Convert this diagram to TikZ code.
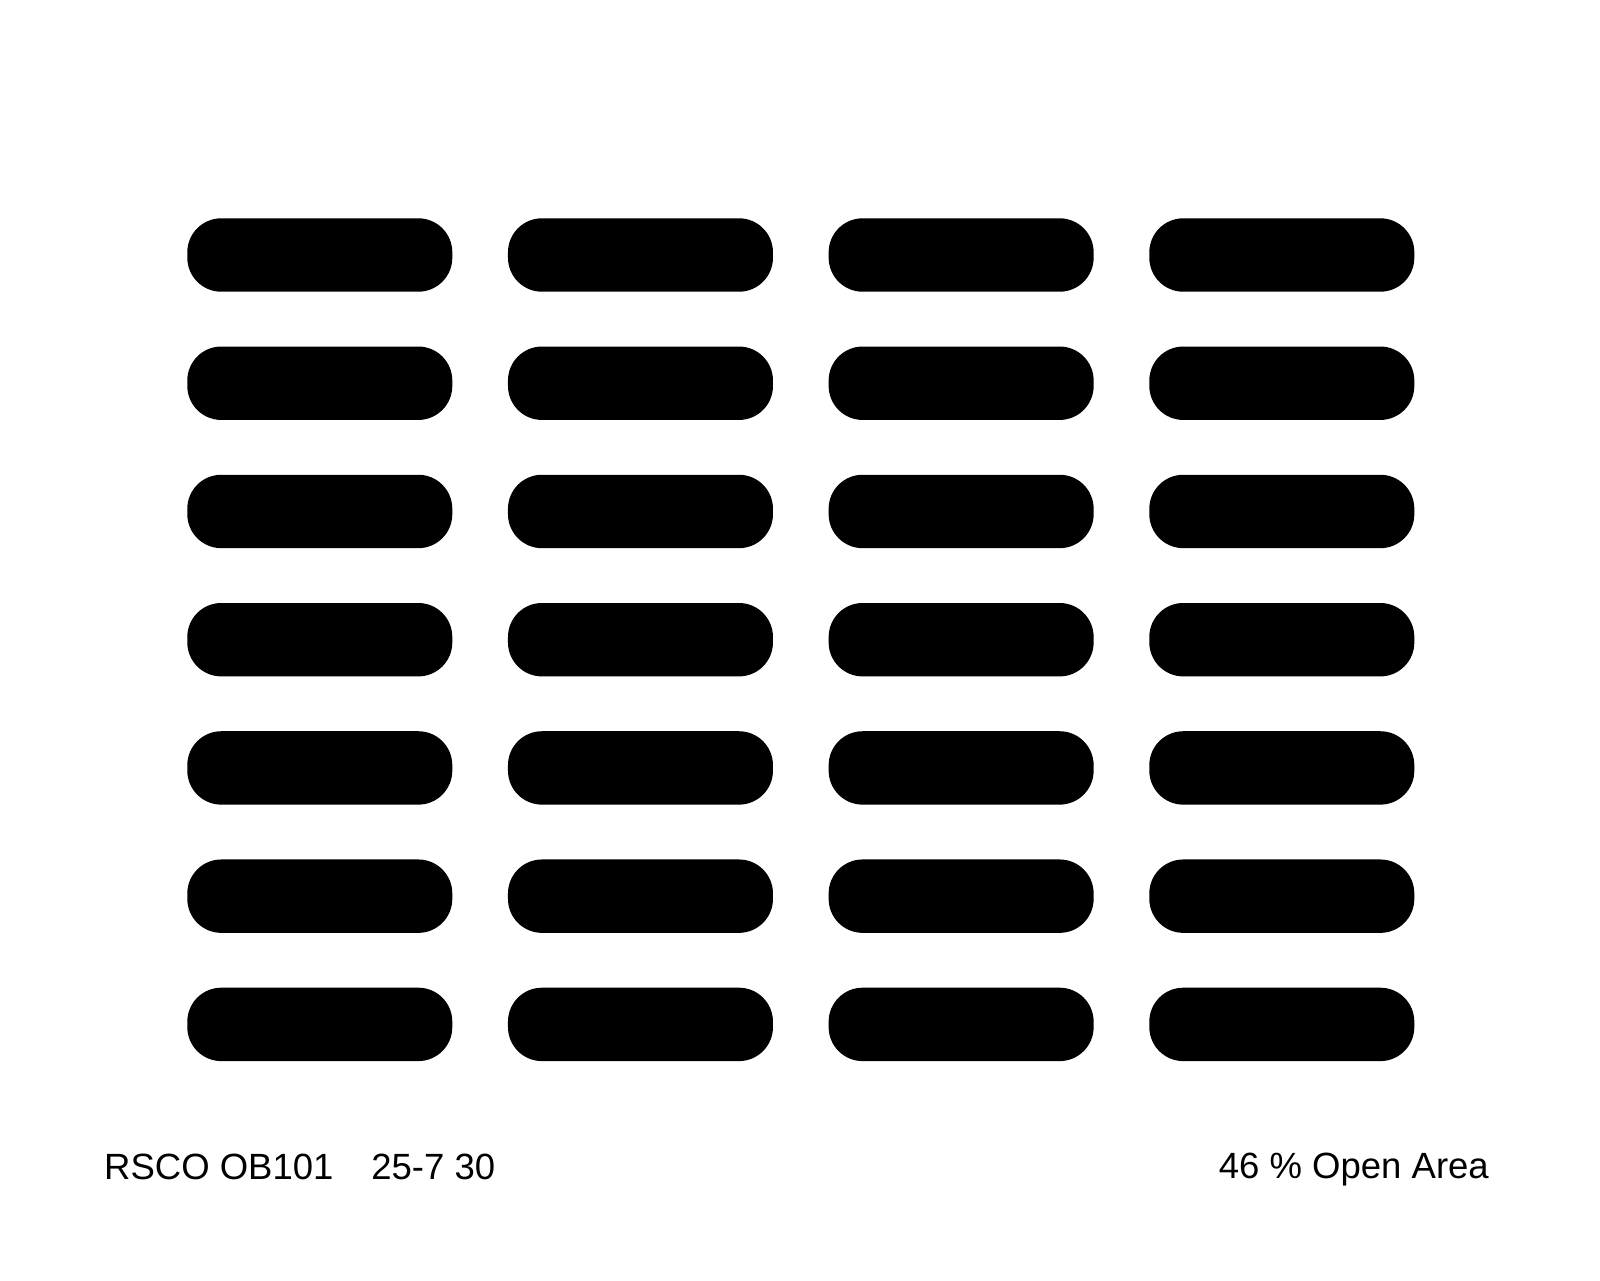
\documentclass[tikz,border=0pt]{standalone}
\usepackage{fontspec}
\setmainfont{Liberation Sans}
\begin{document}
\begin{tikzpicture}[x=1pt,y=-1pt,
  slot/.style={draw=none,fill=black,rectangle,rounded corners=34pt,minimum width=265pt,minimum height=73.4pt,inner sep=0pt,outer sep=0pt},
  label/.style={inner sep=0pt,font=\fontsize{36.5}{40}\selectfont}]
\useasboundingbox[fill=white] (0,0) rectangle (1600,1280);
\foreach \r in {0,...,6}{
  \foreach \c in {0,...,3}{
    \node[slot] (s-\r-\c) at ({187.3+132.5+320.67*\c},{218.3+36.7+128.23*\r}) {};
  }
}
\node[label,anchor=base west] (left) at (104,1179) {RSCO OB101\hspace{38pt}25-7 30};
\node[label,anchor=base east] (right) at (1489,1178) {46 \% Open Area};
\end{tikzpicture}
\end{document}
